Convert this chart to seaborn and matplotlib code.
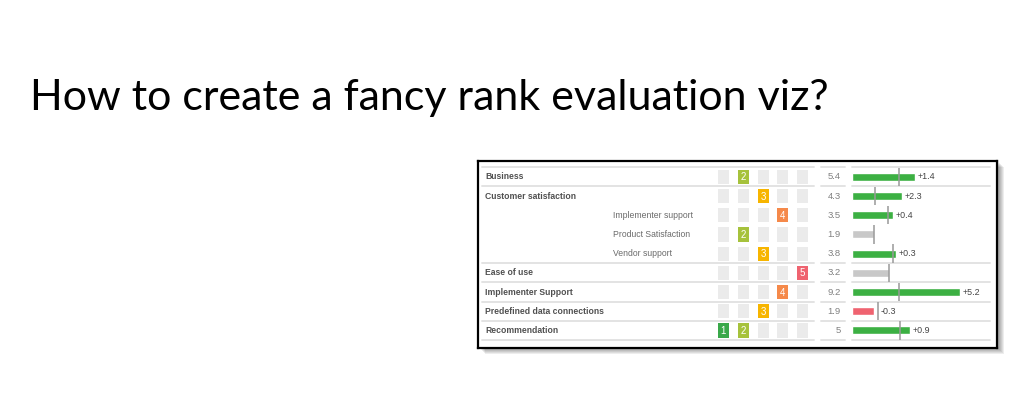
import numpy as np
import pandas as pd
import matplotlib
matplotlib.use("Agg")
import matplotlib.pyplot as plt
import seaborn as sns
from matplotlib.patches import Rectangle

# rows of the rank table
labels = ["Business", "Customer satisfaction", "Implementer support",
          "Product Satisfaction", "Vendor support", "Ease of use",
          "Implementer Support", "Predefined data connections", "Recommendation"]
is_sub = [False, False, True, True, True, False, False, False, False]
ranks = [[2], [3], [4], [2], [3], [5], [4], [3], [1, 2]]
scores = [5.4, 4.3, 3.5, 1.9, 3.8, 3.2, 9.2, 1.9, 5.0]
score_text = ["5.4", "4.3", "3.5", "1.9", "3.8", "3.2", "9.2", "1.9", "5"]
deltas = [1.4, 2.3, 0.4, 0.0, 0.3, 0.0, 5.2, -0.3, 0.9]
rank_cols = [1, 2, 3, 4, 5]

rank_colors = {1: "#3aa84a", 2: "#a6c23c", 3: "#f7b500", 4: "#f5894a", 5: "#ef6370"}
empty_color = "#ebebeb"
line_color = "#e3e3e3"

sns.set_theme(style="white")
plt.rcParams["font.family"] = ["Liberation Sans", "DejaVu Sans"]

W, H = 1024, 404


def fx(px):
    return px / W


def fy(py):
    return 1 - py / H


fig = plt.figure(figsize=(W / 100, H / 100), dpi=100)
fig.patch.set_facecolor("white")

fig.text(fx(30), fy(110), "How to create a fancy rank evaluation viz?",
         fontsize=31, family="Lato", color="black", va="baseline")

# frame + drop shadow
fl, ft, fr, fb = 478, 161, 997, 348
for off in range(1, 7):
    fig.patches.append(Rectangle((fx(fl + off + 1), fy(fb + off)), (fr - fl) / W, (fb - ft) / H,
                                 transform=fig.transFigure, facecolor="black",
                                 alpha=0.07, edgecolor="none", zorder=0.5))
ax_frame = fig.add_axes([fx(fl), fy(fb), (fr - fl) / W, (fb - ft) / H], zorder=1)
ax_frame.set_facecolor("white")
ax_frame.set_xticks([])
ax_frame.set_yticks([])
for s in ax_frame.spines.values():
    s.set_color("black")
    s.set_linewidth(1.6)

row_top, row_bot = 167.3, 340.0
rh = (row_bot - row_top) / H
rows = np.arange(len(labels))
seps = [-0.5, 0.5, 4.5, 5.5, 6.5, 7.5, 8.5]

# labels + rank squares
ax_rank = fig.add_axes([fx(482), fy(row_bot), 332 / W, rh], zorder=2)
for i, lab in enumerate(labels):
    if is_sub[i]:
        ax_rank.text(0.395, i, lab, transform=ax_rank.get_yaxis_transform(),
                     fontsize=6.2, color="#6a6a6a", va="center")
    else:
        ax_rank.text(0.009, i, lab, transform=ax_rank.get_yaxis_transform(),
                     fontsize=6.2, color="#505050", va="center", fontweight="bold")
    for k in rank_cols:
        c = rank_colors[k] if k in ranks[i] else empty_color
        ax_rank.bar(k, 0.74, bottom=i - 0.37, width=0.55, color=c, linewidth=0)
        if k in ranks[i]:
            ax_rank.text(k, i + 0.03, str(k), color="white", fontsize=7,
                         ha="center", va="center")
ax_rank.set_xlim(-11.19, 5.57)

# score column
ax_num = fig.add_axes([fx(821), fy(row_bot), 24 / W, rh], zorder=2)
for i, t in enumerate(score_text):
    ax_num.text(0.82, i, t, transform=ax_num.get_yaxis_transform(),
                fontsize=6.8, color="#808080", ha="right", va="center")

# bars with reference ticks
ax_bar = fig.add_axes([fx(851.7), fy(row_bot), 138.3 / W, rh], zorder=2)
bar_colors = ["#3cb043" if d > 0 else ("#ef6370" if d < 0 else "#c8c8c8") for d in deltas]
df = pd.DataFrame({"label": labels, "score": scores})
sns.barplot(data=df, x="score", y="label", hue="label", order=labels, hue_order=labels,
            palette=bar_colors, width=0.42, saturation=1, errorbar=None,
            legend=False, ax=ax_bar)
refs = np.array(scores) - np.array(deltas)
ax_bar.vlines(refs, rows - 0.48, rows + 0.48, color="#999999", lw=1.1)
for i, d in enumerate(deltas):
    if d != 0:
        ax_bar.text(max(scores[i], refs[i]) + 0.22, i, f"{d:+.1f}",
                    fontsize=6.4, color="#444444", va="center")
ax_bar.set_xlim(0, 11.77)

for ax in (ax_rank, ax_num, ax_bar):
    for y in seps:
        ax.axhline(y, color=line_color, lw=1.4, clip_on=False, zorder=0)
    ax.set_ylim(8.5, -0.5)
    ax.axis("off")

fig.savefig("out.png", dpi=100)
